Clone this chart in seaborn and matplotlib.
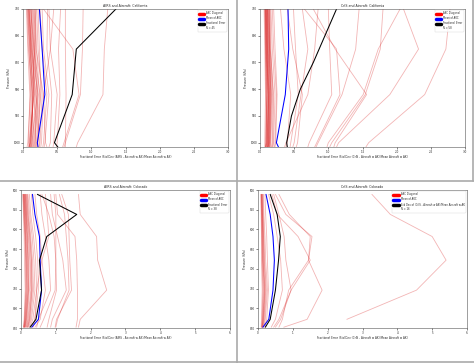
import numpy as np
import pandas as pd
import matplotlib
matplotlib.use('Agg')
import matplotlib.pyplot as plt
from matplotlib.lines import Line2D
import seaborn as sns

sns.set_style('ticks')
plt.rcParams['font.family'] = ['DejaVu Sans']

# pressure levels (hPa)
p_ca = [750, 825, 910, 1000, 1008]
p_ca_fine = [750, 800, 850, 900, 950, 1000, 1008]
p_co = [511, 562, 618, 678, 754, 828, 848]

# ---- AIRS California: AK diagonal fractional errors per profile
airs_ca_red = [
    [1.24, 1.19, 1.17, 0.80, 0.78], [0.88, 0.87, 0.84, 0.62, 0.60],
    [0.30, 0.73, 0.82, 0.60, 0.58], [0.62, 0.62, 0.63, 0.62, 0.62],
    [0.55, 0.52, 0.54, 0.50, 0.49], [0.38, 0.40, 0.50, 0.45, 0.44],
    [0.36, 0.35, 0.42, 0.40, 0.38], [0.45, 0.40, 0.30, 0.33, 0.35],
    [0.05, 0.07, 0.10, 0.08, 0.08], [0.08, 0.10, 0.12, 0.10, 0.09],
    [0.10, 0.12, 0.15, 0.12, 0.11], [0.12, 0.14, 0.18, 0.14, 0.13],
    [0.07, 0.09, 0.11, 0.07, 0.06], [0.15, 0.17, 0.20, 0.16, 0.15],
    [0.09, 0.13, 0.22, 0.18, 0.17], [0.18, 0.20, 0.24, 0.20, 0.19],
    [0.11, 0.16, 0.25, 0.22, 0.21], [0.06, 0.08, 0.14, 0.12, 0.12],
    [0.13, 0.15, 0.16, 0.10, 0.09], [0.20, 0.22, 0.28, 0.25, 0.24],
    [0.16, 0.19, 0.30, 0.27, 0.26], [0.10, 0.11, 0.13, 0.15, 0.14],
    [0.22, 0.24, 0.26, 0.21, 0.20], [0.08, 0.12, 0.19, 0.24, 0.23],
    [0.14, 0.16, 0.21, 0.13, 0.12], [0.25, 0.28, 0.35, 0.30, 0.29],
    [0.12, 0.13, 0.17, 0.19, 0.18], [0.19, 0.17, 0.15, 0.11, 0.10],
    [0.07, 0.10, 0.16, 0.09, 0.10], [0.28, 0.30, 0.38, 0.32, 0.31],
    [0.09, 0.11, 0.14, 0.11, 0.10], [0.17, 0.18, 0.22, 0.17, 0.16],
]
airs_ca_mean = [0.24, 0.28, 0.32, 0.21, 0.22]
airs_ca_frac = [1.36, 0.78, 0.72, 0.46, 0.51]

# ---- CrIS California
cris_ca_red = [
    [2.05, 1.73, 1.51, 1.00, 0.98], [2.78, 2.72, 2.41, 1.59, 1.55],
    [2.10, 2.32, 1.90, 1.15, 1.12], [1.80, 1.76, 1.54, 1.05, 1.02],
    [0.78, 1.10, 1.56, 1.10, 1.08], [0.65, 1.12, 1.17, 0.83, 0.80],
    [0.49, 0.52, 0.56, 0.45, 0.44], [1.00, 1.02, 1.05, 0.72, 0.70],
    [0.62, 0.70, 0.60, 0.50, 0.48], [0.40, 0.48, 0.62, 0.55, 0.53],
    [1.45, 1.40, 1.20, 0.85, 0.82], [0.30, 0.35, 0.45, 0.40, 0.38],
    [0.85, 0.80, 0.70, 0.38, 0.36],
    [0.06, 0.07, 0.08, 0.07, 0.07], [0.08, 0.09, 0.10, 0.09, 0.08],
    [0.09, 0.10, 0.11, 0.10, 0.10], [0.10, 0.11, 0.13, 0.12, 0.11],
    [0.07, 0.08, 0.09, 0.10, 0.09], [0.11, 0.12, 0.14, 0.13, 0.12],
    [0.12, 0.13, 0.15, 0.14, 0.14], [0.08, 0.10, 0.12, 0.11, 0.10],
    [0.13, 0.14, 0.16, 0.15, 0.15], [0.09, 0.09, 0.10, 0.08, 0.08],
    [0.14, 0.15, 0.18, 0.16, 0.16], [0.10, 0.12, 0.14, 0.13, 0.12],
    [0.15, 0.16, 0.19, 0.18, 0.17], [0.07, 0.09, 0.12, 0.12, 0.11],
    [0.11, 0.13, 0.16, 0.14, 0.13], [0.16, 0.18, 0.22, 0.20, 0.19],
    [0.12, 0.14, 0.17, 0.15, 0.14], [0.09, 0.11, 0.13, 0.10, 0.09],
    [0.18, 0.20, 0.24, 0.22, 0.21], [0.10, 0.10, 0.12, 0.11, 0.11],
    [0.13, 0.15, 0.20, 0.19, 0.18], [0.08, 0.08, 0.09, 0.09, 0.08],
    [0.11, 0.11, 0.12, 0.12, 0.12], [0.20, 0.22, 0.25, 0.23, 0.22],
    [0.14, 0.14, 0.15, 0.13, 0.13],
]
cris_ca_mean = [0.41, 0.42, 0.37, 0.24, 0.27]
cris_ca_frac = [1.12, 0.95, 0.78, 0.59, 0.46, 0.39, 0.40]

# ---- AIRS Colorado
airs_co_red = [
    [1.65, 1.70, 2.17, 2.20, 2.46, 1.70, 1.65],
    [1.17, 1.36, 1.38, 1.40, 1.45, 1.02, 0.98],
    [1.10, 1.25, 1.30, 1.35, 1.38, 1.05, 1.00],
    [1.00, 1.05, 1.55, 1.60, 1.62, 1.62, 1.58],
    [0.95, 1.00, 1.00, 1.00, 1.02, 0.80, 0.75],
    [0.60, 0.80, 0.95, 1.00, 0.98, 0.65, 0.55],
    [0.55, 0.60, 0.70, 0.80, 0.85, 0.50, 0.45],
    [0.40, 0.45, 0.55, 0.60, 0.70, 0.55, 0.40],
    [0.70, 0.75, 0.80, 0.60, 0.45, 0.40, 0.35],
    [0.85, 0.90, 1.05, 1.20, 1.30, 0.90, 0.85],
    [0.05, 0.07, 0.09, 0.10, 0.12, 0.09, 0.07],
    [0.08, 0.10, 0.13, 0.15, 0.17, 0.12, 0.09],
    [0.10, 0.13, 0.17, 0.20, 0.22, 0.16, 0.12],
    [0.12, 0.16, 0.21, 0.25, 0.28, 0.20, 0.15],
    [0.07, 0.09, 0.12, 0.14, 0.15, 0.11, 0.08],
    [0.15, 0.19, 0.25, 0.30, 0.33, 0.24, 0.18],
    [0.09, 0.12, 0.15, 0.18, 0.20, 0.14, 0.10],
    [0.18, 0.22, 0.28, 0.33, 0.36, 0.27, 0.20],
    [0.06, 0.08, 0.11, 0.13, 0.14, 0.10, 0.08],
    [0.20, 0.25, 0.32, 0.37, 0.40, 0.30, 0.22],
    [0.11, 0.14, 0.19, 0.22, 0.24, 0.18, 0.13],
    [0.14, 0.17, 0.23, 0.27, 0.30, 0.22, 0.16],
    [0.24, 0.28, 0.36, 0.42, 0.45, 0.34, 0.25],
    [0.08, 0.11, 0.14, 0.16, 0.18, 0.13, 0.10],
    [0.30, 0.34, 0.42, 0.48, 0.50, 0.40, 0.30],
    [0.13, 0.15, 0.18, 0.20, 0.21, 0.15, 0.11],
    [0.17, 0.20, 0.26, 0.30, 0.31, 0.25, 0.19],
]
airs_co_mean = [0.33, 0.40, 0.53, 0.55, 0.59, 0.50, 0.31]
airs_co_frac = [0.47, 1.60, 0.74, 0.53, 0.59, 0.43, 0.26]

# ---- CrIS Colorado
cris_co_red = [
    [3.27, 3.80, 5.00, 5.40, 4.55, 2.55, np.nan],
    [0.60, 0.90, 1.50, 1.45, 1.84, 1.41, 0.74],
    [0.50, 0.80, 1.55, 1.45, 0.88, 0.70, 0.60],
    [0.40, 0.55, 1.15, 1.50, 0.95, 0.65, 0.50],
    [0.45, 0.60, 0.75, 0.80, 0.95, 0.60, 0.45],
    [0.30, 0.45, 0.55, 0.65, 0.70, 0.50, 0.38],
    [0.08, 0.09, 0.10, 0.10, 0.12, 0.10, 0.09],
    [0.10, 0.11, 0.12, 0.13, 0.16, 0.13, 0.11],
    [0.12, 0.13, 0.15, 0.16, 0.20, 0.16, 0.13],
    [0.09, 0.10, 0.11, 0.12, 0.14, 0.12, 0.10],
    [0.14, 0.15, 0.17, 0.19, 0.24, 0.19, 0.15],
    [0.11, 0.12, 0.13, 0.14, 0.18, 0.14, 0.12],
    [0.16, 0.17, 0.20, 0.22, 0.27, 0.21, 0.17],
    [0.13, 0.14, 0.16, 0.18, 0.22, 0.17, 0.14],
    [0.20, 0.22, 0.25, 0.27, 0.30, 0.25, 0.20],
    [0.10, 0.12, 0.14, 0.15, 0.19, 0.15, 0.12],
]
cris_co_mean = [0.23, 0.35, 0.43, 0.47, 0.43, 0.31, 0.14]
cris_co_frac = [0.35, 0.55, 0.64, 0.59, 0.50, 0.35, 0.21]

panels = [
    dict(title='AIRS and Aircraft: California', inst='AIRS', red=airs_ca_red, p=p_ca,
         mean=airs_ca_mean, p_mean=p_ca, frac=airs_ca_frac, p_frac=p_ca,
         ylim=(1008, 750), yt=[750, 800, 850, 900, 950, 1000], xmax=3.0,
         xt=np.arange(0, 3.01, 0.5), fmt='%.1f', n='N = 45', lab3='Fractional Error',
         rect=[23, 9, 228, 147]),
    dict(title='CrIS and Aircraft: California', inst='CrIS', red=cris_ca_red, p=p_ca,
         mean=cris_ca_mean, p_mean=p_ca, frac=cris_ca_frac, p_frac=p_ca_fine,
         ylim=(1008, 750), yt=[750, 800, 850, 900, 950, 1000], xmax=3.0,
         xt=np.arange(0, 3.01, 0.5), fmt='%.1f', n='N = 58', lab3='Fractional Error',
         rect=[260, 9, 465, 147]),
    dict(title='AIRS and Aircraft: Colorado', inst='AIRS', red=airs_co_red, p=p_co,
         mean=airs_co_mean, p_mean=p_co, frac=airs_co_frac, p_frac=p_co,
         ylim=(850, 500), yt=[500, 550, 600, 650, 700, 750, 800, 850], xmax=6,
         xt=np.arange(0, 7, 1), fmt='%d', n='N = 38', lab3='Fractional Error',
         rect=[21, 190, 230, 328]),
    dict(title='CrIS and Aircraft: Colorado', inst='CrIS', red=cris_co_red, p=p_co,
         mean=cris_co_mean, p_mean=p_co, frac=cris_co_frac, p_frac=p_co,
         ylim=(850, 500), yt=[500, 550, 600, 650, 700, 750, 800, 850], xmax=6,
         xt=np.arange(0, 7, 1), fmt='%d', n='N = 16',
         lab3='Std Dev of (CrIS - Aircraft w AK)/Mean Aircraft w AK',
         rect=[258, 190, 467, 328]),
]

W, H = 474, 363
fig = plt.figure(figsize=(W / 100, H / 100), dpi=100)
fs = 2.0

for pan in panels:
    l, t, r, b = pan['rect']
    ax = fig.add_axes([l / W, 1 - b / H, (r - l) / W, (b - t) / H])
    rows = []
    for i, prof in enumerate(pan['red']):
        for pp, v in zip(pan['p'], prof):
            rows.append((i, pp, v))
    df = pd.DataFrame(rows, columns=['prof', 'pressure', 'err']).dropna()
    sns.lineplot(data=df, x='err', y='pressure', units='prof', estimator=None,
                 orient='y', sort=False, color='#d81818', alpha=0.32, lw=0.6,
                 legend=False, ax=ax)
    sns.lineplot(x=pan['mean'], y=pan['p_mean'], orient='y', sort=False,
                 color='blue', lw=0.75, ax=ax)
    sns.lineplot(x=pan['frac'], y=pan['p_frac'], orient='y', sort=False,
                 color='black', lw=0.75, ax=ax)
    ax.set_xlim(0, pan['xmax'])
    ax.set_ylim(*pan['ylim'])
    ax.set_xticks(pan['xt'])
    ax.set_xticklabels([pan['fmt'] % v for v in pan['xt']])
    ax.set_yticks(pan['yt'])
    ax.tick_params(labelsize=fs, length=1.2, width=0.4, pad=1)
    for s in ax.spines.values():
        s.set_linewidth(0.4)
        s.set_color('#555555')
    ax.set_title(pan['title'], fontsize=fs * 1.15, pad=1.5)
    ax.set_xlabel('Fractional Error (Std Dev (%s - Aircraft w AK)/Mean Aircraft w AK)' % pan['inst'],
                  fontsize=fs, labelpad=1)
    ax.set_ylabel('Pressure (hPa)', fontsize=fs, labelpad=2)
    handles = [Line2D([], [], color='red', lw=2.5), Line2D([], [], color='blue', lw=2.5),
               Line2D([], [], color='black', lw=2.5), Line2D([], [], color='none')]
    labels = ['AKC Diagonal', 'Mean of AKC', pan['lab3'], pan['n']]
    leg = ax.legend(handles, labels, loc='upper right', fontsize=fs * 0.9,
                    handlelength=2.2, borderpad=0.5, labelspacing=0.4, frameon=True)
    leg.get_frame().set_linewidth(0.3)

# panel borders from the stitched screenshots
for seg in [([236.5, 236.5], [0, H]), ([0, W], [180.5, 180.5]),
            ([472.5, 472.5], [0, 181]), ([0, W], [361.5, 361.5])]:
    fig.add_artist(Line2D([x / W for x in seg[0]], [1 - y / H for y in seg[1]],
                          color='#aaaaaa', lw=1.2))

fig.savefig('out.png', dpi=100)
